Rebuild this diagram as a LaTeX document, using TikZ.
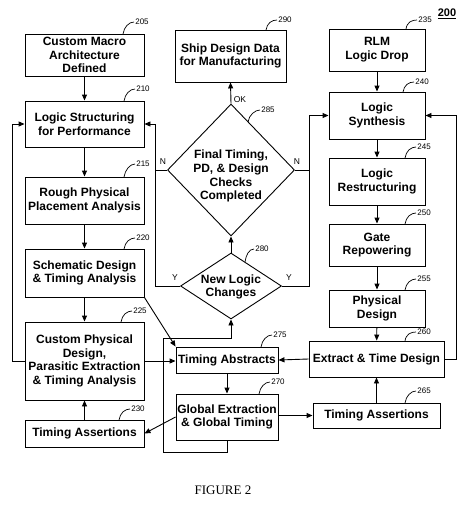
\documentclass[tikz,border=0pt]{standalone}
\usepackage{fontspec}
\setmainfont{Liberation Sans}
\newfontfamily\figfont{Liberation Serif}
\usetikzlibrary{arrows.meta,shapes.geometric,calc}
\tikzset{
  box/.style={draw, line width=0.9pt, align=center, inner sep=0pt,
    font=\bfseries\fontsize{12}{13.8}\selectfont},
  dia/.style={draw, line width=0.9pt, shape=diamond, inner sep=0pt, aspect=1},
  dtext/.style={align=center, inner sep=0pt, font=\bfseries\fontsize{12}{13.8}\selectfont},
  arr/.style={line width=0.9pt, -{Triangle[length=6pt,width=5pt]}},
  ln/.style={line width=0.9pt},
  lead/.style={line width=0.7pt},
  num/.style={font=\fontsize{8}{9}\selectfont, inner sep=1pt, anchor=west},
  yn/.style={font=\fontsize{8.5}{9}\selectfont, inner sep=0pt}
}
\newcommand\callout[3]{\draw[lead] (#1) .. controls +(1,-7) and +(-5,0) .. (#2) node[num] {#3};}
\begin{document}
\begin{tikzpicture}[x=1pt,y=-1pt]
\useasboundingbox (0,0) rectangle (474,506);
% left column
\node[box, minimum width=119pt, minimum height=42pt] (b205) at (84.5,55) {Custom Macro\\Architecture\\Defined};
\node[box, minimum width=119pt, minimum height=46pt] (b210) at (84.5,124) {Logic Structuring\\for Performance};
\node[box, minimum width=119pt, minimum height=47pt] (b215) at (84.5,200.5) {Rough Physical\\Placement Analysis};
\node[box, minimum width=119pt, minimum height=48pt] (b220) at (84.5,273) {Schematic Design\\\& Timing Analysis};
\node[box, minimum width=119pt, minimum height=78pt] (b225) at (84.5,361) {Custom Physical\\Design,\\Parasitic Extraction\\\& Timing Analysis};
\node[box, minimum width=119pt, minimum height=27pt] (b230) at (84.5,433.5) {Timing Assertions};
% middle
\node[box, minimum width=111pt, minimum height=52pt] (b290) at (230.5,56) {Ship Design Data\\for Manufacturing};
\node[dia, minimum width=127pt, minimum height=132pt] (d285) at (231,170) {};
\node[dtext] at (231,176) {Final Timing,\\PD, \& Design\\Checks\\Completed};
\node[dia, minimum width=101pt, minimum height=66pt] (d280) at (231,286) {};
\node[dtext] at (231,287) {New Logic\\Changes};
\node[box, minimum width=102pt, minimum height=26pt] (b275) at (227,360) {Timing Abstracts};
\node[box, minimum width=102pt, minimum height=46pt] (b270) at (227,417) {Global Extraction\\\& Global Timing};
% right column
\node[box, minimum width=96pt, minimum height=42pt] (b235) at (377,50) {RLM\\Logic Drop};
\node[box, minimum width=96pt, minimum height=47pt] (b240) at (377,115.5) {Logic\\Synthesis};
\node[box, minimum width=96pt, minimum height=47pt] (b245) at (377,181.5) {Logic\\Restructuring};
\node[box, minimum width=96pt, minimum height=42pt] (b250) at (377,245) {Gate\\Repowering};
\node[box, minimum width=96pt, minimum height=37pt] (b255) at (377,308.5) {Physical\\Design};
\node[box, minimum width=135pt, minimum height=36pt] (b260) at (376.5,359) {Extract \& Time Design};
\node[box, minimum width=127pt, minimum height=25pt] (b265) at (376.5,415.5) {Timing Assertions};
% vertical arrows
\draw[arr] (b205) -- (b210);
\draw[arr] (b210) -- (b215);
\draw[arr] (b215) -- (b220);
\draw[arr] (b220) -- (b225);
\draw[arr] (b230) -- (b225);
\draw[arr] (b235) -- (b240);
\draw[arr] (b240) -- (b245);
\draw[arr] (b245) -- (b250);
\draw[arr] (b250) -- (b255);
\draw[arr] (b255) -- (b260);
\draw[arr] (b265) -- (b260);
\draw[arr] (b275) -- (b270);
\draw[arr] (d285.north) -- (b290.south);
\draw[arr] (d280.north) -- (d285.south);
% horizontal / diagonal
\draw[arr] (b225.east) -- (b275.west |- b225.east);
\draw[arr] (b260.west) -- (b275.east);
\draw[arr] (b220.south east) -- (b275.north west);
\draw[arr] (b270.west) -- (b230.east);
\draw[arr] (b270.east |- b265.west) -- (b265.west);
% feedback loops
\draw[arr] (b225.west) -- ++(-12,0) |- (b210.west);
\draw[arr] (b260.east) -- ++(12,0) |- (b240.east);
\coordinate (lx) at (155,0);
\coordinate (rx) at (309,0);
\draw[arr] (d280.west) -| (lx |- b210.east) -- (b210.east);
\draw[ln] (d285.west) -- (lx |- d285.west);
\draw[arr] (d280.east) -| (rx |- b240.west) -- (b240.west);
\draw[ln] (d285.east) -- (rx |- d285.east);
\coordinate (bl) at (163,452);
\coordinate (tj) at (231,338);
\draw[arr] (b270.south) |- (bl) |- (tj) -- (d280.south);
% branch labels
\node[yn] at (240,100) {OK};
\node[yn] at (163,162) {N};
\node[yn] at (297,162) {N};
\node[yn] at (175,278) {Y};
\node[yn] at (289,278) {Y};
% callouts
\callout{123,34}{134,22}{205}
\callout{124,101}{135,89}{210}
\callout{124,177}{135,164}{215}
\callout{124,249}{135,238}{220}
\callout{121,322}{132,311}{225}
\callout{119,420}{130,409}{230}
\callout{266,30}{277,20}{290}
\callout{406,29}{417,20}{235}
\callout{403,92}{414,82}{240}
\callout{405,158}{416,147}{245}
\callout{405,224}{416,213}{250}
\callout{405,290}{416,279}{255}
\callout{405,341}{416,332}{260}
\callout{405,403}{416,391}{265}
\callout{261,347}{272,335}{275}
\callout{259,394}{270,382}{270}
\callout{248,122}{260,110}{285}
\callout{245,262}{254,249}{280}
\node[font=\bfseries\fontsize{11}{12}\selectfont, inner sep=0pt] (fig) at (447,14) {\underline{200}};
\node[font=\figfont\fontsize{13}{14}\selectfont, inner sep=0pt] (cap) at (223,490) {FIGURE 2};
\end{tikzpicture}
\end{document}
